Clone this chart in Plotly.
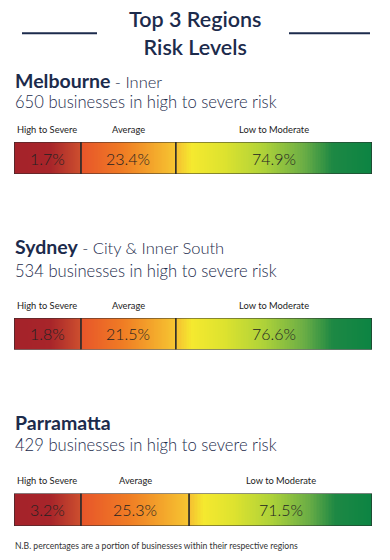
import plotly.graph_objects as go

# ---------------- data ----------------
regions = ["Melbourne", "Sydney", "Parramatta"]
region_suffix = ["Inner", "City &amp; Inner South", ""]
businesses_high_risk = [650, 534, 429]
high_to_severe = [1.7, 1.8, 3.2]
average = [23.4, 21.5, 25.3]
low_to_moderate = [74.9, 76.6, 71.5]
category_labels = ["High to Severe", "Average", "Low to Moderate"]
# visual share of the bar given to each segment in the design (not proportional)
display_share_high = [18.7, 18.7, 18.7]
display_share_avg = [26.5, 26.5, 30.2]
display_share_low = [54.8, 54.8, 51.1]

# ---------------- layout constants ----------------
PAGE_OFF = 8  # browser default body margin
W, H = 390 - 2 * PAGE_OFF, 560 - 2 * PAGE_OFF
NAVY = "#1c2b4c"
TXT = "#222222"
FONT = "Lato"


def py(p):
    return 1 - (p - PAGE_OFF) / H


def px(p):
    return (p - PAGE_OFF) / W


bar_left, bar_right = 14, 372
title_y = [80.7, 246.7, 422.7]
subtitle_y = [101.7, 270.7, 445.0]
heading_y = [129.0, 305.0, 480.7]
bar_top = [142.0, 318.0, 493.5]
bar_bottom = [174.0, 349.5, 526.0]

# gradient colorscale across 3 segments (z from 0..3)
e = 1e-4
seg_scales = [
    [(0.0, "#a4222a"), (0.55, "#a8252a"), (1.0, "#cd4f2e")],
    [(0.0, "#e7552a"), (0.45, "#f07d24"), (1.0, "#f6c631")],
    [(0.0, "#f5be31"), (0.08, "#f5e92f"), (0.25, "#dde22f"), (0.45, "#aed239"),
     (0.65, "#6cae45"), (0.8, "#1d8844"), (1.0, "#0c8443")],
]
colorscale = []
for i, sc in enumerate(seg_scales):
    for t, c in sc:
        pos = (i + t) / 3
        if t == 0.0 and i > 0:
            pos += e
        if t == 1.0 and i < 2:
            pos -= e
        colorscale.append([min(max(pos, 0), 1), c])

fig = go.Figure()
annotations = []
shapes = []
N = 120

for r in range(3):
    xa = "x" if r == 0 else f"x{r+1}"
    ya = "y" if r == 0 else f"y{r+1}"
    shares = [display_share_high[r], display_share_avg[r], display_share_low[r]]
    values = [high_to_severe[r], average[r], low_to_moderate[r]]
    xs, zs = [], []
    start = 0
    starts = []
    for i, w in enumerate(shares):
        starts.append(start)
        for k in range(N):
            f = (k + 0.5) / N
            xs.append(start + w * f)
            zs.append(i + f)
        start += w
    fig.add_trace(go.Heatmap(
        x=xs, y=[0.5], z=[zs], colorscale=colorscale, zmin=0, zmax=3,
        showscale=False, hoverinfo="skip", xaxis=xa, yaxis=ya, zsmooth=False,
    ))
    axkey = "xaxis" if r == 0 else f"xaxis{r+1}"
    aykey = "yaxis" if r == 0 else f"yaxis{r+1}"
    fig.update_layout(**{
        axkey: dict(domain=[px(bar_left), px(bar_right)], range=[0, sum(shares)],
                    visible=False, anchor=ya, fixedrange=True),
        aykey: dict(domain=[py(bar_bottom[r]), py(bar_top[r])], range=[0, 1],
                    visible=False, anchor=xa, fixedrange=True),
    })
    # segment outlines and labels
    for i, w in enumerate(shares):
        shapes.append(dict(type="rect", xref=xa, yref=ya, x0=starts[i], x1=starts[i] + w,
                           y0=0, y1=1, line=dict(color="#2b2b2b", width=1.2),
                           fillcolor="rgba(0,0,0,0)", layer="above"))
        annotations.append(dict(
            xref=xa, yref=ya, x=starts[i] + w / 2, y=0.5, text=f"{values[i]}%",
            showarrow=False, xanchor="center", yanchor="middle",
            font=dict(family=FONT, size=16, color=TXT, weight=300)))
        annotations.append(dict(
            xref=xa, yref="paper", x=starts[i] + w / 2, y=py(heading_y[r]),
            text=category_labels[i], showarrow=False, xanchor="center", yanchor="middle",
            font=dict(family=FONT, size=9.3, color=TXT)))
    # region title and subtitle
    t = f"<b>{regions[r]}</b>"
    if region_suffix[r]:
        t += f'<span style="font-size:16.5px"> - {region_suffix[r]}</span>'
    annotations.append(dict(
        xref="paper", yref="paper", x=px(13), y=py(title_y[r]), text=t,
        showarrow=False, xanchor="left", yanchor="middle",
        font=dict(family=FONT, size=19.5, color=NAVY, weight=300)))
    annotations.append(dict(
        xref="paper", yref="paper", x=px(13), y=py(subtitle_y[r]),
        text=f"{businesses_high_risk[r]} businesses in high to severe risk",
        showarrow=False, xanchor="left", yanchor="middle",
        font=dict(family=FONT, size=16.6, color=NAVY, weight=300)))

# main title (two lines in one text block)
annotations.append(dict(
    xref="paper", yref="paper", x=px(195), y=py(33.2), text="Top 3 Regions<br>Risk Levels",
    showarrow=False, xanchor="center", yanchor="middle", borderpad=0,
    font=dict(family=FONT, size=21.5, color=NAVY, weight=600)))
for x0, x1 in [(22, 97), (289, 370)]:
    shapes.append(dict(type="line", xref="paper", yref="paper", x0=px(x0), x1=px(x1),
                       y0=py(33.3), y1=py(33.3), line=dict(color=NAVY, width=2)))

# footnote
annotations.append(dict(
    xref="paper", yref="paper", x=px(13), y=py(545.5),
    text="N.B. percentages are a portion of businesses within their respective regions",
    showarrow=False, xanchor="left", yanchor="middle",
    font=dict(family=FONT, size=8.6, color="#333333")))

fig.update_layout(
    width=W, height=H, margin=dict(l=0, r=0, t=0, b=0),
    paper_bgcolor="white", plot_bgcolor="white",
    annotations=annotations, shapes=shapes, showlegend=False,
)
fig.write_html("out.html", config={"displayModeBar": False})
